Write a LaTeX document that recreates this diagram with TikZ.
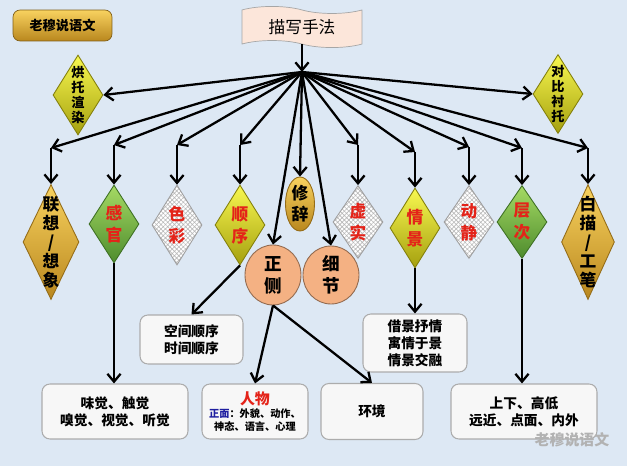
\documentclass[tikz,border=0pt]{standalone}
\usepackage{fontspec}
\setmainfont{Noto Sans CJK SC}
\usetikzlibrary{arrows.meta,shapes.geometric,shapes.symbols,patterns.meta}
\definecolor{mkBG}{RGB}{221,232,244}
\definecolor{mkYelT}{RGB}{248,248,80}
\definecolor{mkYelB}{RGB}{165,160,15}
\definecolor{mkGldT}{RGB}{248,210,95}
\definecolor{mkGldB}{RGB}{185,135,30}
\definecolor{mkGrnT}{RGB}{165,218,100}
\definecolor{mkGrnB}{RGB}{78,140,45}
\definecolor{mkRed}{RGB}{228,35,25}
\definecolor{mkBlue}{RGB}{30,30,160}
\definecolor{mkSal}{RGB}{244,177,131}
\definecolor{mkPink}{RGB}{252,230,218}

\begin{document}
\begin{tikzpicture}[
  x=0.02cm, y=-0.02cm,
  arr/.style={-{Straight Barb[length=4.5pt,width=7.5pt]}, line width=1.3pt, black},
  dia/.style 2 args={diamond, inner sep=0pt, minimum width=#1, minimum height=#2, line width=0.5pt},
  yel/.style={draw=mkYelB!80!black, top color=mkYelT, bottom color=mkYelB},
  gld/.style={draw=mkGldB!80!black, top color=mkGldT, bottom color=mkGldB},
  grn/.style={draw=mkGrnB!80!black, top color=mkGrnT, bottom color=mkGrnB},
  dot/.style={draw=gray!75, preaction={fill=white},
    pattern={Hatch[distance=1.8pt, angle=45, line width=0.35pt]}, pattern color=gray!55},
  vt/.style={font=\bfseries\fontsize{9.5}{#1}\selectfont, align=center, inner sep=0pt},
  sal/.style={ellipse, draw=mkSal!60!black, fill=mkSal, inner sep=0pt, line width=0.5pt},
  txtbox/.style={draw=gray!65, fill=gray!6, rounded corners=4.5pt, line width=0.6pt,
    align=center, inner sep=0pt, font=\bfseries\fontsize{7.8}{9.7}\selectfont}
]
\useasboundingbox (0,0) rectangle (627,466);
\fill[mkBG] (0,0) rectangle (627,466);

% header
\node[draw=mkGldB!70!black, top color=mkGldT, bottom color=mkGldB, rounded corners=4pt,
      minimum width=1.98cm, minimum height=0.62cm,
      font=\bfseries\fontsize{7.5}{8}\selectfont] (logo) at (62.5,25.5) {老穆说语文};
\node[tape, draw=gray!70, fill=mkPink, minimum width=2.4cm, minimum height=0.7cm,
      tape bend top=out and in, tape bend bottom=out and in, tape bend height=4pt,
      font=\fontsize{9.5}{10}\selectfont] (title) at (302,27) {描写手法};
\coordinate (hub) at (302,72);

% side diamonds
\node[dia={1.0cm}{1.6cm}, yel, label={[vt=8.6, font=\bfseries\fontsize{7.5}{8.6}\selectfont]center:{烘\\托\\渲\\染}}] (hx) at (78,95) {};
\node[dia={1.0cm}{1.58cm}, yel, label={[vt=8.6, font=\bfseries\fontsize{7.5}{8.6}\selectfont]center:{对\\比\\衬\\托}}] (db) at (558,94) {};

% lower row
\node[dia={1.12cm}{2.3cm}, gld, label={[vt=10.8]center:{联\\想\\/\\想\\象}}] (lx) at (51,242) {};
\node[dia={1.0cm}{1.56cm}, grn, label={[vt=12.5, text=mkRed]center:{感\\官}}] (gg) at (114,224) {};
\node[dia={1.0cm}{1.6cm}, dot, label={[vt=12.5, text=mkRed]center:{色\\彩}}] (sc) at (177,225) {};
\node[dia={1.0cm}{1.6cm}, yel, label={[vt=12.5, text=mkRed]center:{顺\\序}}] (sx) at (240,225) {};
\node[sal, gld, minimum width=0.58cm, minimum height=1.08cm, label={[vt=12]center:{修\\辞}}] (xc) at (300,204) {};
\node[sal, minimum width=1.12cm, minimum height=1.2cm, label={[vt=12.5, font=\bfseries\fontsize{10}{12.5}\selectfont]center:{正\\侧}}] (zc) at (273,275) {};
\node[sal, minimum width=1.12cm, minimum height=1.16cm, label={[vt=12.5, font=\bfseries\fontsize{10}{12.5}\selectfont]center:{细\\节}}] (xj) at (331,275) {};
\node[dia={1.0cm}{1.46cm}, dot, label={[vt=12.5, text=mkRed]center:{虚\\实}}] (xs) at (358,222) {};
\node[dia={1.0cm}{1.6cm}, yel, label={[vt=12.5, text=mkRed]center:{情\\景}}] (qj) at (415,228) {};
\node[dia={1.0cm}{1.46cm}, dot, label={[vt=12.5, text=mkRed]center:{动\\静}}] (dj) at (469,222) {};
\node[dia={1.0cm}{1.46cm}, grn, label={[vt=12.5, text=mkRed]center:{层\\次}}] (cc) at (522,222) {};
\node[dia={1.06cm}{2.3cm}, gld, label={[vt=10.8]center:{白\\描\\/\\工\\笔}}] (bm) at (588,242) {};

% boxes
\node[txtbox, minimum width=2.06cm, minimum height=0.98cm] (bsx) at (191.5,339.5) {空间顺序\\时间顺序};
\node[txtbox, minimum width=2.92cm, minimum height=1.1cm] (bgg) at (115,411.5) {味觉、触觉\\嗅觉、视觉、听觉};
\node[txtbox, minimum width=2.12cm, minimum height=1.1cm, font=\bfseries\fontsize{5.8}{7.4}\selectfont] (brw) at (255,411.5)
  {{\fontsize{8.5}{9}\selectfont\textcolor{mkRed}{人物}}\\\textcolor{mkBlue}{正面}：外貌、动作、\\神态、语言、心理};
\node[txtbox, minimum width=2.04cm, minimum height=1.12cm] (bhj) at (372,411.5) {环境};
\node[txtbox, minimum width=2.08cm, minimum height=1.16cm] (bqj) at (415,343) {借景抒情\\寓情于景\\情景交融};
\node[txtbox, minimum width=2.92cm, minimum height=1.1cm] (bcc) at (524,411.5) {上下、高低\\远近、点面、内外};

\node[text=gray!60, font=\bfseries\fontsize{8.5}{9}\selectfont] (wm) at (572,440) {老穆说语文};

% connectors
\draw[arr] (title.south) -- (hub);
\draw[arr] (hub) -- (hx.east);
\draw[arr] (hub) -- (db.west);
\foreach \n in {xc,zc,xj}
  \draw[arr] (hub) -- (\n.north);
\foreach \n/\y in {lx/148,gg/145,sc/145,sx/145,xs/145,qj/152,dj/147,cc/148,bm/148}{
  \coordinate (e\n) at (\n.north |- 0,\y);
  \draw[arr] (hub) -- (e\n);
  \draw[arr] (e\n) -- (\n.north);
}
\draw[arr] (sx.south) -- (bsx.north);
\draw[arr] (gg.south) -- (gg.south |- bgg.north);
\draw[arr] (zc.south) -- (brw.north);
\draw[arr] (zc.south) -- (bhj.north);
\draw[arr] (qj.south) -- (bqj.north);
\draw[arr] (cc.south) -- (cc.south |- bcc.north);

\end{tikzpicture}
\end{document}
